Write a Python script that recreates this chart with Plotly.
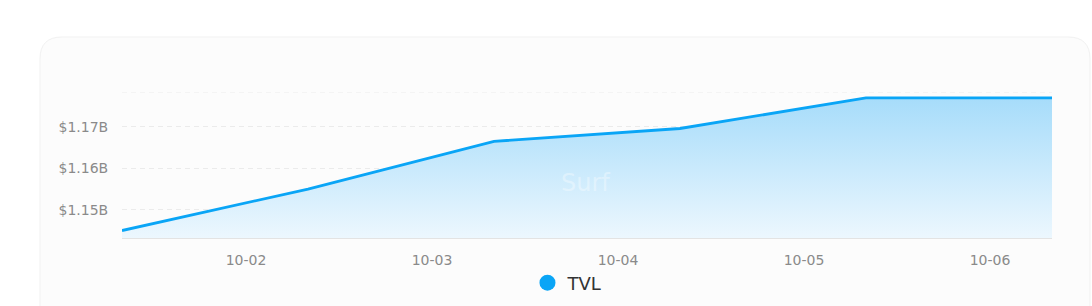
import plotly.graph_objects as go

# ---- data ----
dates = ["2024-10-01 08:00", "2024-10-02 08:00", "2024-10-03 08:00",
         "2024-10-04 08:00", "2024-10-05 08:00", "2024-10-06 08:00"]
tvl = [1.1450e9, 1.1550e9, 1.1665e9, 1.1696e9, 1.1770e9, 1.1770e9]
series_name = "TVL"
y_tick_vals = [1.15e9, 1.16e9, 1.17e9]
y_tick_text = ["$1.15B", "$1.16B", "$1.17B"]
x_tick_vals = ["2024-10-02", "2024-10-03", "2024-10-04", "2024-10-05", "2024-10-06"]
x_tick_text = ["10-02", "10-03", "10-04", "10-05", "10-06"]
y_range = [1.1432e9, 1.1784e9]

W, H = 1092, 306
ML, MR, MT, MB = 122, 40, 92, 68

LINE = "#0aa5f6"
GRID = "#ebebeb"
FONT = "DejaVu Sans"

fig = go.Figure()
fig.add_trace(go.Scatter(
    x=dates, y=tvl, mode="lines", name=series_name,
    line=dict(color=LINE, width=2.8),
    fill="tozeroy",
    fillgradient=dict(type="vertical",
                      colorscale=[[0, "#ecf7fe"], [1, "#a6dcfa"]],
                      start=y_range[0], stop=max(tvl)),
    showlegend=False, hoverinfo="skip",
))
# legend entry (circle symbol)
fig.add_trace(go.Scatter(
    x=[None], y=[None], mode="markers", name=series_name,
    marker=dict(color=LINE, size=18, symbol="circle"),
    showlegend=True,
))

# card background (rounded rectangle) in paper coords
def px_x(p):
    return (p - ML) / (W - ML - MR)

def px_y(p):
    return (H - MB - p) / (H - MT - MB)

x0, y0, x1, r = 40, 37, 1090, 22
yb = 340
path = (f"M {px_x(x0)},{px_y(yb)} L {px_x(x0)},{px_y(y0 + r)} "
        f"Q {px_x(x0)},{px_y(y0)} {px_x(x0 + r)},{px_y(y0)} "
        f"L {px_x(x1 - r)},{px_y(y0)} "
        f"Q {px_x(x1)},{px_y(y0)} {px_x(x1)},{px_y(y0 + r)} "
        f"L {px_x(x1)},{px_y(yb)} Z")
fig.add_shape(type="path", path=path, xref="paper", yref="paper",
              fillcolor="#fcfcfc", line=dict(color="#f1f1f1", width=1),
              layer="below")

# top gridline at the axis maximum
fig.add_shape(type="line", xref="paper", yref="y", x0=0, x1=1,
              y0=y_range[1], y1=y_range[1],
              line=dict(color=GRID, width=1, dash="5px,4px"), layer="below")

# watermark
fig.add_annotation(text="Surf", xref="paper", yref="paper",
                   x=px_x(585), y=px_y(183), showarrow=False,
                   font=dict(family=FONT, size=24, color="rgba(255,255,255,0.35)"))

fig.update_layout(
    width=W, height=H,
    margin=dict(l=ML, r=MR, t=MT, b=MB, autoexpand=False),
    paper_bgcolor="#ffffff",
    plot_bgcolor="rgba(0,0,0,0)",
    font=dict(family=FONT, size=14, color="#8a8a8a"),
    showlegend=True,
    legend=dict(orientation="h", x=0.479, xanchor="center",
                yref="container", y=23 / H, yanchor="middle",
                font=dict(family=FONT, size=18, color="#333333"),
                bgcolor="rgba(0,0,0,0)", itemsizing="trace"),
    xaxis=dict(
        type="date",
        range=[dates[0], dates[-1]],
        tickvals=x_tick_vals, ticktext=x_tick_text,
        showgrid=False, zeroline=False,
        showline=True, linecolor="#e3e3e3", linewidth=1,
        ticks="outside", ticklen=9, tickcolor="rgba(0,0,0,0)",
        tickfont=dict(family=FONT, size=14, color="#8a8a8a"),
    ),
    yaxis=dict(
        range=y_range,
        tickvals=y_tick_vals, ticktext=y_tick_text,
        showgrid=True, gridcolor=GRID, griddash="5px,4px", gridwidth=1,
        zeroline=False, showline=False,
        ticks="outside", ticklen=10, tickcolor="rgba(0,0,0,0)",
        tickfont=dict(family=FONT, size=14, color="#8a8a8a"),
    ),
    hovermode=False,
)

fig.write_html("out.html")
